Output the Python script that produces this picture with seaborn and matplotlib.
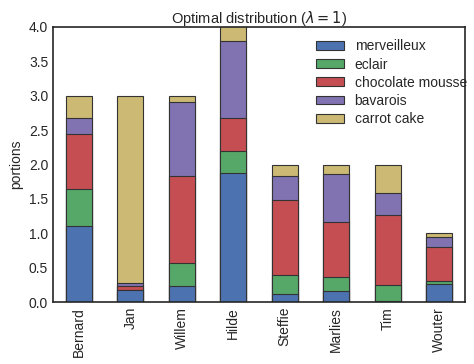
import matplotlib
matplotlib.use("Agg")
import matplotlib.pyplot as plt
import seaborn as sns
import numpy as np
import pandas as pd

people = ["Bernard", "Jan", "Willem", "Hilde", "Steffie", "Marlies", "Tim", "Wouter"]
desserts = ["merveilleux", "eclair", "chocolate mousse", "bavarois", "carrot cake"]
merveilleux = [1.11, 0.17, 0.23, 1.87, 0.12, 0.16, 0.01, 0.26]
eclair = [0.54, 0.01, 0.34, 0.33, 0.28, 0.20, 0.24, 0.05]
chocolate_mousse = [0.79, 0.06, 1.26, 0.48, 1.08, 0.81, 1.01, 0.49]
bavarois = [0.24, 0.04, 1.08, 1.11, 0.36, 0.69, 0.33, 0.15]
carrot_cake = [0.32, 2.72, 0.09, 0.25, 0.16, 0.14, 0.41, 0.05]

sns.set_style("white")
plt.rcParams['font.family'] = ['Liberation Sans', 'DejaVu Sans']
colors = ["#4C72B0", "#55A868", "#C44E52", "#8172B2", "#CCB974"]

series = [merveilleux, eclair, chocolate_mousse, bavarois, carrot_cake]
cum = np.cumsum(np.array(series), axis=0)

fig, ax = plt.subplots(figsize=(4.74, 3.64), dpi=100)
for i in reversed(range(len(desserts))):
    df = pd.DataFrame({"person": people, "value": cum[i]})
    sns.barplot(data=df, x="person", y="value", color=colors[i], saturation=1,
                width=0.5, edgecolor="#333333", linewidth=0.8, ax=ax,
                label=desserts[i])

handles, labels = ax.get_legend_handles_labels()
ax.legend(handles[::-1], labels[::-1], loc="upper right", frameon=False,
          fontsize=10, handlelength=2.0, handleheight=0.6, labelspacing=0.3,
          handletextpad=0.8, bbox_to_anchor=(1.035, 1.0))
ax.set_ylim(0, 4.0)
ax.set_xlim(-0.5, 7.5)
ax.set_yticks(np.arange(0, 4.01, 0.5))
ax.set_yticklabels([f"{v:.1f}" for v in np.arange(0, 4.01, 0.5)], fontsize=10)
ax.set_xticks(range(len(people)))
ax.set_xticklabels(people, rotation=90, fontsize=10)
ax.set_xlabel("")
ax.set_ylabel("portions", fontsize=10)
ax.set_title(r"Optimal distribution ($\lambda=1$)", fontsize=10.5, pad=3)
for s in ax.spines.values():
    s.set_color("#262626")
    s.set_linewidth(1.2)
ax.tick_params(length=0)
fig.subplots_adjust(left=0.112, right=0.981, top=0.926, bottom=0.17)
fig.savefig("out.png", dpi=100)
